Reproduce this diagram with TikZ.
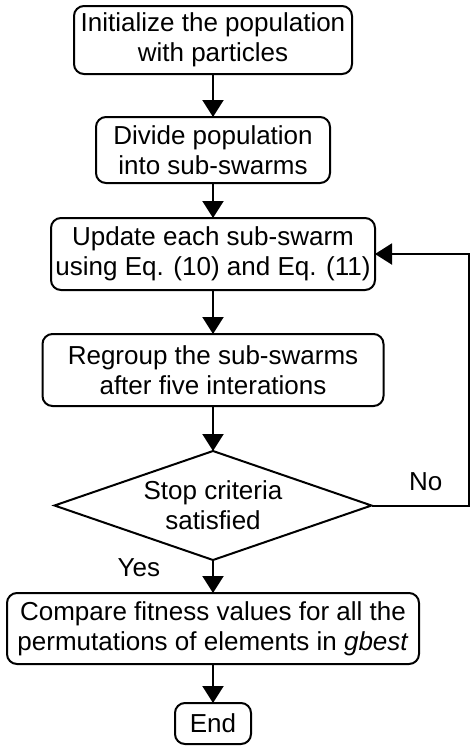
\documentclass[tikz,border=0pt]{standalone}
\usepackage{fontspec}
\setmainfont{Liberation Sans}
\usetikzlibrary{positioning, arrows.meta, shapes.geometric}
\tikzset{
    bigbox/.style={draw, rounded corners=5pt, inner sep=1.5pt, outer sep=0pt, align=center, minimum height=34pt},
    smallbox/.style={draw, rounded corners=5pt, inner sep=1.5pt, outer sep=0pt, minimum width=38pt, minimum height=20.5pt},
    decision/.style={draw, diamond, aspect=2.9, inner sep=0pt, outer sep=0pt, align=center, minimum width=158.5pt, minimum height=54.5pt},
    tag/.style={inner sep=2pt}
}

\begin{document}
\begin{tikzpicture}[line width=1pt, >={Triangle[length=8.5pt, width=10.5pt]}, font=\fontsize{13}{15}\selectfont]
  \useasboundingbox (0,0) rectangle (237pt,-375.5pt);

  \node(IP)[bigbox, minimum width=139pt] at (106.5pt,-20pt){Initialize the population\\with particles};
  \node(DS)[bigbox, minimum width=117pt, minimum height=33pt, below=21.5pt of IP]{Divide population\\into sub-swarms};
  \node(US)[bigbox, minimum width=162pt, minimum height=36pt, below=17.5pt of DS]{Update each sub-swarm\\using Eq. (10) and Eq. (11)};
  \node(RS)[bigbox, minimum width=170.5pt, minimum height=36pt, below=22pt of US]{Regroup the sub-swarms\\after five interations};
  \node(SC)[decision, below=22.5pt of RS]{Stop criteria\\satisfied};
  \node(CF)[bigbox, minimum width=206pt, minimum height=35.5pt, below=16.5pt of SC]{Compare fitness values for all the\\permutations of elements in \textit{gbest}};
  \node(E)[smallbox, below=19.5pt of CF]{End};

  \draw[->](IP)--(DS);
  \draw[->](DS)--(US);
  \draw[->](US)--(RS);
  \draw[->](RS)--(SC);
  \draw[->](SC)--node[tag, pos=0.24, left=24pt]{Yes}(CF);
  \draw[->](CF)--(E);

  % back to the update step
  \draw[->](SC.east)--node[tag, pos=0.56, above=5pt]{No}++(48.5pt,0)|-(US.east);

\end{tikzpicture}
\end{document}
